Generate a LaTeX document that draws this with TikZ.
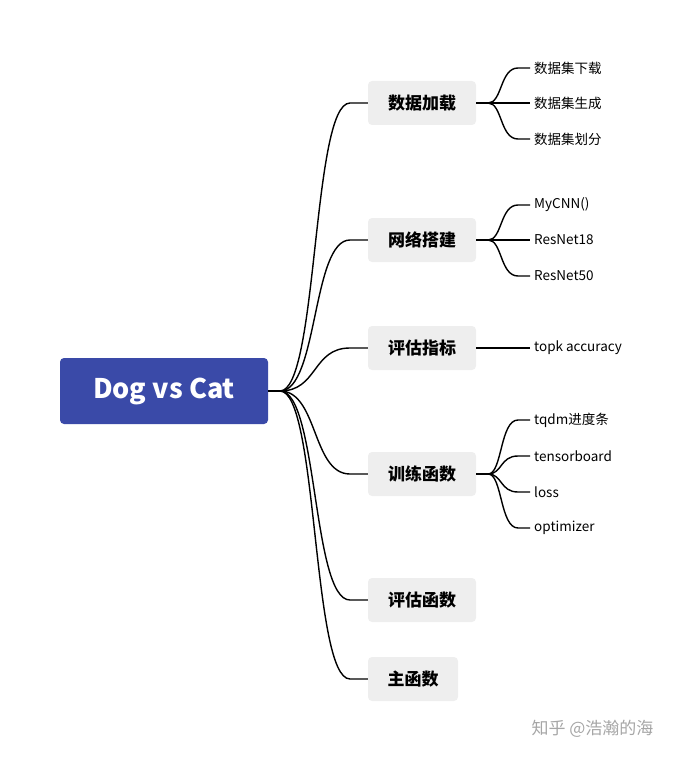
\documentclass[tikz,border=0pt]{standalone}
\usepackage{fontspec}
\setmainfont{Noto Sans CJK SC}
\definecolor{rootblue}{HTML}{3A4AA8}
\definecolor{boxgray}{HTML}{EEEEEE}
\tikzset{
  rootbox/.style={fill=rootblue,rounded corners=4pt,text=white,font=\fontsize{27}{30}\selectfont\bfseries,minimum width=208pt,minimum height=66pt,inner sep=0pt},
  topic/.style={fill=boxgray,rounded corners=4pt,font=\fontsize{17}{20}\selectfont\bfseries,minimum width=108pt,minimum height=44pt,inner sep=0pt},
  leaf/.style={anchor=west,font=\fontsize{13.5}{16}\selectfont,inner sep=0pt},
  link/.style={line width=1.4pt,black}
}
\begin{document}
\begin{tikzpicture}[x=1pt,y=-1pt]
  \useasboundingbox (0,0) rectangle (696,757);
  \node[rootbox] (root) at (164,391) {Dog vs Cat};
  \coordinate (hub) at (280,391);
  \draw[link] (root.east) -- (hub);

  \node[topic] (load) at (422,103) {数据加载};
  \node[topic] (net) at (422,240) {网络搭建};
  \node[topic] (metric) at (422,348) {评估指标};
  \node[topic] (train) at (422,474) {训练函数};
  \node[topic] (eval) at (422,600) {评估函数};
  \node[topic,minimum width=90pt] (main) at (413,679) {主函数};

  \foreach \t in {load,net,metric,train,eval,main}
    \draw[link] (hub) .. controls (318,391) and (312,0|-\t.west) .. (350,0|-\t.west) -- (\t.west);

  % leaves
  \node[leaf] (l1) at (534,68) {数据集下载};
  \node[leaf] (l2) at (534,103) {数据集生成};
  \node[leaf] (l3) at (534,139) {数据集划分};
  \node[leaf] (n1) at (534,205) {MyCNN()};
  \node[leaf] (n2) at (534,240) {ResNet18};
  \node[leaf] (n3) at (534,276) {ResNet50};
  \node[leaf] (m1) at (534,348) {topk accuracy};
  \node[leaf] (t1) at (534,420) {tqdm进度条};
  \node[leaf] (t2) at (534,456) {tensorboard};
  \node[leaf] (t3) at (534,492) {loss};
  \node[leaf] (t4) at (534,528) {optimizer};

  \foreach \t/\l in {load/l1,load/l2,load/l3,net/n1,net/n2,net/n3,metric/m1,train/t1,train/t2,train/t3,train/t4}
    \draw[link] (\t.east) -- ++(12,0) .. controls ++(14,0) and (500,0|-\l.west) .. (518,0|-\l.west) -- ([xshift=-4pt]\l.west);

  \node[anchor=west,text=gray!70,font=\fontsize{17}{20}\selectfont] (mark) at (528,729) {知乎 @浩瀚的海};
\end{tikzpicture}
\end{document}
